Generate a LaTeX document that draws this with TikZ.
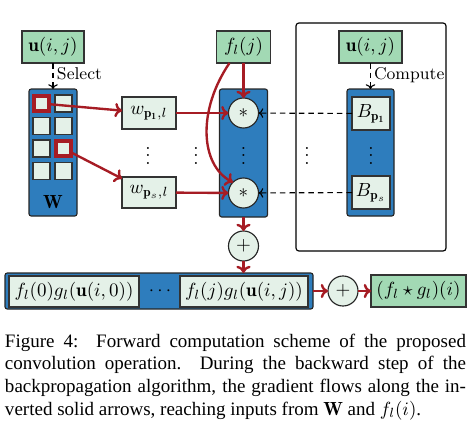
\documentclass[tikz,border=0pt]{standalone}
\usepackage{fontspec}
\newfontfamily\capfont{Liberation Serif}
\usetikzlibrary{calc,arrows.meta}
\definecolor{colblue}{RGB}{46,125,189}
\definecolor{boxgreen}{RGB}{162,217,180}
\definecolor{boxlight}{RGB}{228,241,232}
\definecolor{arrred}{RGB}{166,28,36}
\tikzset{
  sz/.style 2 args={minimum width=#1*0.526pt, minimum height=#2*0.526pt},
  greenbox/.style={draw=black!80, line width=0.6pt, fill=boxgreen},
  lightbox/.style={draw=black!80, line width=0.6pt, fill=boxlight},
  column/.style={draw=black!85, line width=0.6pt, fill=colblue, rounded corners=1.2pt},
  cell/.style={lightbox, sz={17}{17}},
  hicell/.style={draw=arrred, line width=1.9pt, fill=boxlight, sz={14.5}{14.5}},
  opcirc/.style={circle, draw=black!85, line width=0.6pt, fill=boxlight, minimum size=15.8pt},
  fwd/.style={draw=arrred, line width=1.25pt, -{To[length=3.8pt,width=7.5pt]}},
  dashline/.style={draw=black, line width=0.6pt, dash pattern=on 3pt off 2pt, -{To[length=2.5pt,width=5pt]}},
  lbl/.style={font=\small, anchor=base west}
}
\begin{document}
\begin{tikzpicture}[x=0.526pt,y=-0.526pt,
  every node/.style={inner sep=0pt, outer sep=0pt}]
\useasboundingbox (0,0) rectangle (473,431);

% big right frame
\node[draw=black, line width=0.6pt, rounded corners=1.5pt, sz={150}{228}] (frame) at (371,137) {};

% columns
\node[column, sz={48}{127}] (Wcol) at (53,152.5) {};
\node[column, sz={48}{128}] (M) at (243.5,153) {};
\node[column, sz={47}{127}] (Bcol) at (370.5,152.5) {};
\node[column, sz={308}{36}] (bar) at (159,291) {};

% top inputs
\node[greenbox, sz={62}{32}] (uL) at (53,47) {$\mathbf{u}(i,j)$};
\node[greenbox, sz={54}{32}] (flj) at (243.5,47) {$f_l(j)$};
\node[greenbox, sz={63}{32}] (uR) at (370.5,47) {$\mathbf{u}(i,j)$};

% W grid
\node[hicell] (s11) at (41.5,103.5) {};
\node[cell] (s12) at (63.5,103.5) {};
\node[cell] (s21) at (41.5,126) {};
\node[cell] (s22) at (63.5,126) {};
\node[cell] (s31) at (41.5,148.5) {};
\node[hicell] (s32) at (63.5,148.5) {};
\node[cell] (s41) at (41.5,171) {};
\node[cell] (s42) at (63.5,171) {};
\node (Wlab) at (53,202) {$\mathbf{W}$};

% weights
\node[lightbox, sz={54}{32}] (wp1) at (149,113) {$w_{\mathbf{p_1},l}$};
\node[lightbox, sz={54}{31}] (wps) at (149,192.5) {$w_{\mathbf{p}_s,l}$};

% products
\node[opcirc] (c1) at (243.5,113) {$\ast$};
\node[opcirc] (c2) at (243.5,193) {$\ast$};

% basis
\node[lightbox, sz={38}{33}] (Bp1) at (371,113.5) {$B_{\mathbf{p_1}}$};
\node[lightbox, sz={38}{33}] (Bps) at (371,192.5) {$B_{\mathbf{p}_s}$};

% dots
\node (d1) at (148,150) {$\vdots$};
\node (d2) at (196,150) {$\vdots$};
\node (d3) at (243.5,150) {$\vdots$};
\node (d4) at (307,150) {$\vdots$};
\node (d5) at (371,150) {$\vdots$};

% sum
\node[opcirc] (plus1) at (243.5,246) {$+$};
\node[lightbox, sz={130}{31}] (G0) at (74,291.5) {$f_l(0)g_l(\mathbf{u}(i,0))$};
\node (cd) at (160,291.5) {$\cdots$};
\node[lightbox, sz={128}{31}] (Gj) at (244,291.5) {$f_l(j)g_l(\mathbf{u}(i,j))$};
\node[opcirc] (plus2) at (343,291) {$+$};
\node[greenbox, sz={95}{32}] (res) at (418.5,291) {$(f_l\star g_l)(i)$};

% labels
\node[lbl] (sel) at (57,79) {Select};
\node[lbl] (comp) at (374,79) {Compute};

% dashed connectors
\draw[dashline] (uL) -- (Wcol);
\draw[dashline] (uR) -- (Bcol);
\draw[dashline] (Bp1) -- (c1);
\draw[dashline] (Bps) -- (c2);

% forward arrows
\draw[fwd] (s11) -- (wp1);
\draw[fwd] (s32) -- (wps);
\draw[fwd] (wp1) -- (c1);
\draw[fwd] (wps) -- (c2);
\draw[fwd] (flj) -- (c1);
\draw[fwd] ($(flj.south)+(-14,0)$) .. controls +(-32,47) and +(-33,-18) .. (c2.135);
\draw[fwd] (M) -- (plus1);
\draw[fwd] (plus1) -- (plus1 |- bar.north);
\draw[fwd] (bar.east |- plus2) -- (plus2);
\draw[fwd] (plus2) -- (res);

% caption
\node[anchor=base west, text width=242.5pt, align=justify,
      font=\capfont\fontsize{10pt}{11.93pt}\selectfont] (cap) at (5,347)
 {\hyphenpenalty=10000 Figure 4:\ \ Forward computation scheme of the proposed\linebreak
  convolution operation.\ \ During the backward step of the\linebreak
  backpropagation algorithm, the gradient flows along the in-\linebreak
  verted solid arrows, reaching inputs from $\mathbf{W}$ and $f_l(i)$.};
\end{tikzpicture}
\end{document}
